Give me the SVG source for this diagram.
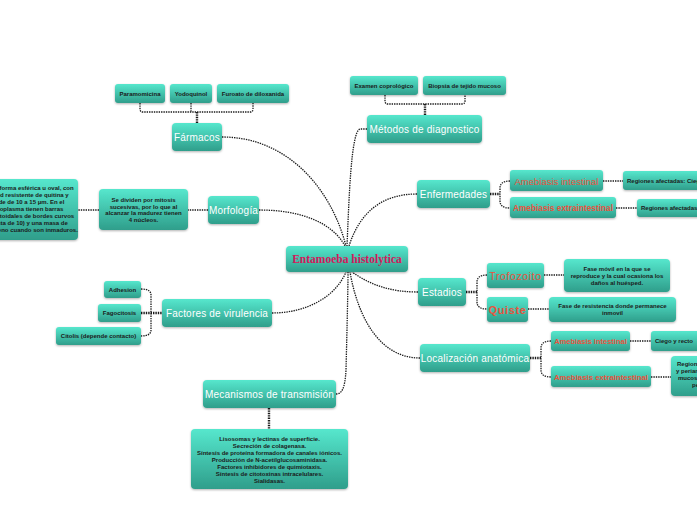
<svg xmlns="http://www.w3.org/2000/svg" width="697" height="520" viewBox="0 0 697 520">
<defs>
<linearGradient id="g" x1="0" y1="0" x2="0" y2="1">
<stop offset="0" stop-color="#56e7cd"/>
<stop offset="1" stop-color="#2f9e8b"/>
</linearGradient>
<filter id="sh" x="-10%" y="-20%" width="120%" height="150%">
<feDropShadow dx="0" dy="1" stdDeviation="0.8" flood-color="#000" flood-opacity="0.3"/>
</filter>
</defs>
<style>
.n rect{fill:url(#g);filter:url(#sh)}
.t{font-family:"Liberation Sans","DejaVu Sans",sans-serif;font-size:10px;fill:#fff;text-anchor:middle;letter-spacing:0.2px}
.s{font-family:"Liberation Sans","DejaVu Sans",sans-serif;font-size:6px;font-weight:bold;fill:#1b1b1b;text-anchor:middle}
.l{text-anchor:start}
.r{font-family:"Liberation Sans","DejaVu Sans",sans-serif;fill:#e8543e;text-anchor:middle}
.m{font-family:"Liberation Serif","DejaVu Serif",serif;font-size:11.5px;font-weight:bold;fill:#d3195c;text-anchor:middle}
.c path{fill:none;stroke:#1a1a1a;stroke-width:1.3;stroke-dasharray:1.4 1}
.c .k{stroke-width:2.4}
</style>

<g class="c" id="connectors">
<path d="M222,137 C285,137 330,185 346,246"/>
<path d="M367,129 L360,129 C351,131 349,200 347,246"/>
<path d="M259,210 C300,210 332,222 345,246"/>
<path d="M417,194 C382,194 360,212 349,246"/>
<path d="M272,313 C305,313 335,298 346,272"/>
<path d="M336,394 C342,394 345,388 346,370 C347,330 348,290 348,272"/>
<path d="M418,292 C392,292 372,286 352,272"/>
<path d="M420,358 C380,358 358,318 350,272"/>
<path d="M140,103 V109 Q140,112 143,112 H250 Q253,112 253,109 V103"/>
<path d="M191,103 V112"/>
<path class="k" d="M197,112 V123"/>
<path d="M385,95 V101 Q385,104 388,104 H462 Q465,104 465,101 V95"/>
<path class="k" d="M425,104 V115"/>
<path d="M208,210 H188"/>
<path d="M99,210 H78"/>
<path d="M141,289 Q151,289 151,295 V330 Q151,336 141,336"/>
<path class="k" d="M141,313 H162"/>
<path class="k" d="M269,408 V429"/>
<path class="k" d="M490,194 H500"/>
<path d="M510,181 Q500,181 500,188 V201 Q500,208 510,208"/>
<path d="M603,181 H623"/>
<path d="M616,208 H637"/>
<path class="k" d="M466,292 H477"/>
<path d="M487,275 Q477,275 477,282 V302 Q477,309 487,309"/>
<path d="M544,275 H564"/>
<path d="M528,309 H549"/>
<path class="k" d="M530,358 H541"/>
<path d="M551,341 Q541,341 541,348 V370 Q541,377 551,377"/>
<path d="M630,341 H651"/>
<path d="M651,377 H671"/>
</g>

<g class="n" id="central"><rect x="286" y="246" width="122" height="26" rx="4"/><text class="m" x="347" y="263">Entamoeba histolytica</text></g>

<g class="n" id="farmacos"><rect x="172" y="123" width="50" height="28" rx="4"/><text class="t" x="197" y="141">Fármacos</text></g>
<g class="n" id="paramomicina"><rect x="115" y="84" width="50" height="19" rx="3"/><text class="s" x="140" y="96">Paramomicina</text></g>
<g class="n" id="yodoquinol"><rect x="170" y="84" width="42" height="19" rx="3"/><text class="s" x="191" y="96">Yodoquinol</text></g>
<g class="n" id="furoato"><rect x="217" y="84" width="72" height="19" rx="3"/><text class="s" x="253" y="96">Furoato de diloxanida</text></g>

<g class="n" id="metodos"><rect x="367" y="115" width="115" height="28" rx="4"/><text class="t" x="424.5" y="133">Métodos de diagnostico</text></g>
<g class="n" id="examen"><rect x="350" y="76" width="68" height="19" rx="3"/><text class="s" x="384" y="88">Examen coprológico</text></g>
<g class="n" id="biopsia"><rect x="423" y="76" width="83" height="19" rx="3"/><text class="s" x="464.5" y="88">Biopsia de tejido mucoso</text></g>

<g class="n" id="morfologia"><rect x="208" y="196" width="51" height="28" rx="4"/><text class="t" x="233.5" y="214">Morfología</text></g>
<g class="n" id="dividen"><rect x="99" y="189" width="89" height="41" rx="4"/>
<text class="s" x="143.5"><tspan x="143.5" y="202">Se dividen por mitosis</tspan><tspan x="143.5" y="208.7">sucesivas, por lo que al</tspan><tspan x="143.5" y="215.4">alcanzar la madurez tienen</tspan><tspan x="143.5" y="222.1">4 núcleos.</tspan></text></g>
<g class="n" id="forma"><rect x="-40" y="179" width="118" height="61" rx="4"/>
<text class="s"><tspan x="28" y="190">Tiene forma esférica u oval, con</tspan><tspan x="28" y="197">pared resistente de quitina y</tspan><tspan x="28" y="204">mide de 10 a 15 μm. En el</tspan><tspan x="28" y="211">citoplasma tienen barras</tspan><tspan x="28" y="218">cromatoidales de bordes curvos</tspan><tspan x="28" y="225">(hasta de 10) y una masa de</tspan><tspan x="28" y="232">glucógeno cuando son inmaduros.</tspan></text></g>

<g class="n" id="factores"><rect x="162" y="299" width="110" height="28" rx="4"/><text class="t" x="217" y="317">Factores de virulencia</text></g>
<g class="n" id="adhesion"><rect x="104" y="281" width="37" height="17" rx="3"/><text class="s" x="122.5" y="291.5">Adhesion</text></g>
<g class="n" id="fagocitosis"><rect x="98" y="304" width="43" height="18" rx="3"/><text class="s" x="119.5" y="315">Fagocitosis</text></g>
<g class="n" id="citolis"><rect x="56" y="327" width="85" height="18" rx="3"/><text class="s" x="98.5" y="338">Citolis (depende contacto)</text></g>

<g class="n" id="mecanismos"><rect x="203" y="380" width="133" height="28" rx="4"/><text class="t" x="269.5" y="398">Mecanismos de transmisión</text></g>
<g class="n" id="mecanismos-texto"><rect x="191" y="429" width="157" height="60" rx="4"/>
<text class="s"><tspan x="269.5" y="441">Lisosomas y lectinas de superficie.</tspan><tspan x="269.5" y="448">Secreción de colagenasa.</tspan><tspan x="269.5" y="455">Síntesis de proteína formadora de canales iónicos.</tspan><tspan x="269.5" y="462">Producción de N-acetilglucosaminidasa.</tspan><tspan x="269.5" y="469">Factores inhibidores de quimiotaxis.</tspan><tspan x="269.5" y="476">Síntesis de citotoxinas intracelulares.</tspan><tspan x="269.5" y="483">Sialidasas.</tspan></text></g>

<g class="n" id="enfermedades"><rect x="417" y="180" width="73" height="28" rx="4"/><text class="t" x="453.5" y="198">Enfermedades</text></g>
<g class="n" id="enf-intestinal"><rect x="510" y="170" width="93" height="21" rx="3"/><text class="r" x="556.5" y="184.5" font-size="9.5">Amebiasis intestinal</text></g>
<g class="n" id="enf-extra"><rect x="510" y="197" width="106" height="21" rx="3"/><text class="r" x="563" y="211" font-size="8.3" font-weight="bold">Amebiasis extraintestinal</text></g>
<g class="n" id="enf-reg1"><rect x="623" y="171" width="90" height="19" rx="3"/><text class="s l" x="627" y="183">Regiones afectadas: Ciego y recto</text></g>
<g class="n" id="enf-reg2"><rect x="637" y="199" width="80" height="18" rx="3"/><text class="s l" x="641" y="210">Regiones afectadas: Perianal</text></g>

<g class="n" id="estadios"><rect x="418" y="278" width="48" height="28" rx="4"/><text class="t" x="442" y="296">Estadios</text></g>
<g class="n" id="trofozoito"><rect x="487" y="263" width="57" height="25" rx="3"/><text class="r" x="515.5" y="279.5" font-size="10.5" letter-spacing="0.6">Trofozoito</text></g>
<g class="n" id="quiste"><rect x="487" y="297" width="41" height="25" rx="3"/><text class="r" x="507.5" y="313.5" font-size="11" letter-spacing="0.6" font-weight="bold">Quiste</text></g>
<g class="n" id="trofo-texto"><rect x="564" y="259" width="106" height="33" rx="4"/>
<text class="s"><tspan x="617" y="271">Fase móvil en la que se</tspan><tspan x="617" y="278">reproduce y la cual ocasiona los</tspan><tspan x="617" y="285">daños al huésped.</tspan></text></g>
<g class="n" id="quiste-texto"><rect x="549" y="297" width="127" height="25" rx="4"/>
<text class="s"><tspan x="612.5" y="308">Fase de resistencia donde permanece</tspan><tspan x="612.5" y="315">inmovil</tspan></text></g>

<g class="n" id="localizacion"><rect x="420" y="344" width="110" height="28" rx="4"/><text class="t" x="475" y="362">Localización anatómica</text></g>
<g class="n" id="loc-intestinal"><rect x="551" y="331" width="79" height="20" rx="3"/><text class="r" x="590.5" y="344" font-size="7.5" font-weight="bold">Amebiasis intestinal</text></g>
<g class="n" id="loc-extra"><rect x="551" y="366" width="100" height="21" rx="3"/><text class="r" x="601" y="379.5" font-size="7.8" font-weight="bold">Amebiasis extraintestinal</text></g>
<g class="n" id="ciego"><rect x="651" y="331" width="60" height="20" rx="3"/><text class="s l" x="655" y="343">Ciego y recto</text></g>
<g class="n" id="loc-regiones"><rect x="671" y="356" width="50" height="40" rx="4"/>
<text class="s l"><tspan x="677" y="366">Regiones</tspan><tspan x="676" y="373">y perianal</tspan><tspan x="678" y="380">mucosas</tspan><tspan x="692" y="387">pene</tspan></text></g>
</svg>
